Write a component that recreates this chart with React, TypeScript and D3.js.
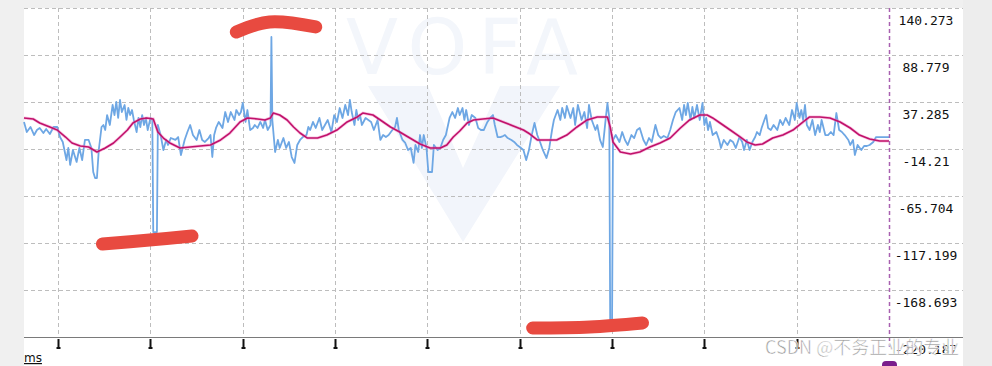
import React, { useEffect, useRef } from "react";
import * as d3 from "d3";

// right axis labels, top to bottom
const yTickLabels = ["140.273", "88.779", "37.285", "-14.21", "-65.704", "-117.199", "-168.693", "-220.187"];
// time axis (ms), labels are not legible in the capture
const xTickValues = [0, 100, 200, 300, 400, 500, 600, 700, 800];
const xDomain = [-37, 900];

// raw channel [ms, value]
const rawSignal: [number, number][] = [
  [-37, 15.4], [-34, 4.4], [-30, 9.9], [-26, 1.1], [-23, 6.6], [-20, 8.8], [-16, 3.3], [-13, 7.7], [-9, 2.2], [-5, 9.9],
  [-1, 9.9], [2, -1.1], [5, -6.5], [9, -26.3], [11, -13.1], [13, -31.7], [16, -15.3], [20, -28.4], [23, -13.1], [26, -26.3],
  [29, -4.3], [33, -4.3], [36, -13.1], [38, -39.4], [40, -46.0], [42, -46.0], [44, -15.3], [47, 9.9], [49, 12.1], [51, 6.6],
  [53, 23.0], [56, 12.1], [59, 34.0], [61, 23.0], [63, 37.3], [65, 19.8], [67, 39.5], [69, 26.3], [72, 34.0], [74, 17.6],
  [76, 30.7], [78, 23.0], [80, 28.5], [82, 17.6], [85, 4.4], [87, 19.8], [89, 9.9], [91, 23.0], [93, 12.1], [95, 19.8],
  [97, 6.6], [100, 19.8], [102, 17.6], [103, -105.2], [107, -105.2], [108, 12.1], [111, 1.1], [114, -15.3], [117, -4.3], [119, -9.8],
  [122, -2.2], [127, -4.3], [130, -1.1], [133, -20.8], [137, -4.3], [140, 4.4], [143, 12.1], [146, 1.1], [150, -4.3], [153, 6.6],
  [156, -4.3], [159, -6.5], [163, -2.2], [165, 1.1], [167, -23.0], [169, 1.1], [171, 8.8], [174, 15.4], [178, 8.8], [181, 26.3],
  [184, 15.4], [187, 26.3], [191, 17.6], [193, 28.5], [196, 23.0], [198, 26.3], [200, 36.2], [203, 15.4], [205, 28.5], [208, 6.6],
  [211, 8.8], [213, 12.1], [216, 8.8], [219, 15.4], [222, 8.8], [224, 17.6], [227, 6.6], [230, 12.1], [231, 108.5], [232, 17.6],
  [235, -17.5], [238, -4.3], [240, -13.1], [244, -2.2], [247, -13.1], [250, -6.5], [253, -23.0], [256, -29.5], [259, -9.8], [262, -4.3],
  [265, -1.1], [269, 1.1], [271, 9.9], [273, 6.6], [276, 15.4], [279, 8.8], [283, 19.8], [286, 6.6], [289, 12.1], [292, 17.6],
  [296, 4.4], [299, 23.0], [302, 15.4], [305, 30.7], [308, 19.8], [311, 34.0], [314, 23.0], [316, 39.5], [318, 26.3], [321, 12.1],
  [323, 28.5], [325, 17.6], [327, 23.0], [329, 12.1], [333, 19.8], [336, 17.6], [339, 15.4], [342, 6.6], [346, 17.6], [349, -4.3],
  [352, 1.1], [355, -1.1], [358, 1.1], [362, 6.6], [365, 9.9], [367, 19.8], [369, 6.6], [373, -4.3], [376, -7.6], [379, -15.3],
  [382, -13.1], [385, -29.5], [387, -9.8], [390, -17.5], [392, 1.1], [394, -13.1], [396, 1.1], [399, -13.1], [401, -39.4], [405, -39.4],
  [407, -9.8], [411, -15.3], [414, -13.1], [417, -4.3], [420, 1.1], [424, 19.8], [427, 26.3], [430, 19.8], [433, 30.7], [435, 23.0],
  [438, 30.7], [440, 17.6], [442, 28.5], [445, 12.1], [448, 23.0], [452, 19.8], [455, 8.8], [458, 6.6], [461, 6.6], [465, 15.4],
  [468, 19.8], [471, 23.0], [473, 12.1], [476, -1.1], [479, -1.1], [482, 0], [484, 1.1], [487, -2.2], [491, -4.3], [494, -6.5],
  [497, -9.8], [500, -12.0], [504, -15.3], [507, -26.3], [510, -15.3], [513, 1.1], [516, 14.3], [519, 1.1], [522, -6.5], [525, -15.3],
  [529, -24.1], [532, -13.1], [535, 6.6], [537, 17.6], [541, 28.5], [544, 17.6], [546, 30.7], [549, 19.8], [551, 32.9], [555, 19.8],
  [558, 30.7], [560, 12.1], [563, 34.0], [567, 17.6], [570, 26.3], [573, 8.8], [575, 34.0], [578, 17.6], [582, 6.6], [584, 12.1],
  [587, -4.3], [590, -12.0], [593, 17.6], [595, 36.2], [597, 19.8], [598, -207], [600, -207], [601, -4.3], [604, 1.1], [608, -6.5],
  [611, 4.4], [614, -4.3], [617, -9.8], [621, 1.1], [624, -2.2], [627, 6.6], [630, 8.8], [634, -4.3], [637, -9.8], [640, -2.2],
  [643, -6.5], [647, 12.1], [650, 1.1], [653, -2.2], [656, 0], [660, -2.2], [663, 6.6], [666, 17.6], [669, 26.3], [673, 30.7],
  [676, 17.6], [678, 34.0], [680, 23.0], [682, 36.2], [685, 17.6], [687, 31.8], [689, 19.8], [692, 34.0], [695, 17.6], [698, 36.2],
  [700, 12.1], [702, 19.8], [704, 6.6], [706, 15.4], [709, 1.1], [713, 4.4], [716, -4.3], [718, -13.1], [721, -4.3], [725, -9.8],
  [728, -4.3], [731, -6.5], [734, -13.1], [738, -1.1], [741, -6.5], [743, -15.3], [746, -4.3], [749, -15.3], [752, -6.5], [755, -1.1],
  [757, 4.4], [760, 1.1], [762, 8.8], [765, 17.6], [767, 23.0], [769, 8.8], [772, 6.6], [775, 12.1], [779, 6.6], [782, 17.6],
  [785, 12.1], [788, 19.8], [792, 12.1], [795, 28.5], [798, 17.6], [800, 36.2], [803, 19.8], [805, 28.5], [807, 17.6], [809, 34.0],
  [811, 12.1], [814, 6.6], [817, 17.6], [820, 1.1], [823, 12.1], [825, 4.4], [827, 17.6], [831, 1.1], [834, 1.1], [837, 4.4],
  [840, 1.1], [843, 25.2], [846, 6.6], [849, 4.4], [852, 1.1], [856, -4.3], [858, -9.8], [861, -4.3], [863, -20.8], [866, -9.8],
  [870, -15.3], [873, -10.9], [876, -10.9], [879, -9.8], [883, -6.5], [886, -1.1], [890, -1.1], [900, -1.1],
];

// filtered channel [ms, value]
const filteredSignal: [number, number][] = [
  [-37, 19.8], [-27, 18.7], [-20, 14.3], [-9, 9.9], [-1, 6.6], [8, -1.1], [15, -7.6], [24, -10.9], [33, -12.0], [42, -17.5],
  [51, -13.1], [60, -7.6], [67, -1.1], [75, 6.6], [81, 14.3], [89, 18.7], [96, 19.8], [103, 18.7], [108, 4.4], [114, -2.2],
  [121, -7.6], [132, -13.1], [143, -12.0], [154, -10.9], [165, -9.8], [176, -4.3], [186, 3.3], [197, 15.4], [205, 19.8], [216, 18.7],
  [224, 17.6], [230, 19.8], [233, 25.2], [240, 23.0], [248, 17.6], [255, 9.9], [262, 3.3], [270, -2.2], [281, -2.2], [291, 1.1],
  [302, 6.6], [313, 15.4], [324, 20.9], [330, 25.2], [341, 23.0], [349, 17.6], [360, 9.9], [370, 4.4], [381, -2.2], [392, -8.7],
  [403, -13.1], [414, -13.1], [421, -9.8], [428, -1.1], [435, 5.5], [443, 14.3], [450, 17.6], [460, 18.7], [471, 19.8], [482, 15.4],
  [493, 11.0], [504, 6.6], [511, 2.2], [519, -4.3], [530, -4.3], [540, -4.3], [551, 1.1], [562, 9.9], [573, 17.6], [584, 20.9],
  [595, 20.9], [598, 9.9], [601, -6.5], [609, -17.5], [620, -19.7], [630, -17.5], [641, -12.0], [652, -7.6], [663, -2.2], [674, 8.8],
  [684, 17.6], [695, 23.0], [703, 23.0], [709, 19.8], [717, 14.3], [728, 6.6], [739, -1.1], [746, -6.5], [755, -9.8], [763, -8.7],
  [774, -2.2], [785, 1.1], [796, 6.6], [807, 15.4], [814, 20.9], [825, 20.9], [836, 19.8], [847, 15.4], [858, 8.8], [868, 1.1],
  [879, -3.3], [890, -5.4], [900, -5.4],
];

// red hand-drawn marks over the spikes [ms, value]
const markTop: [number, number][] = [[193, 114], [229, 125], [279, 119.5]];
const markLeft: [number, number][] = [[48, -118.3], [99, -114], [145, -109.5]];
const markBottom: [number, number][] = [[514, -210.3], [576, -209.2], [633, -204.8]];

export default function App() {
  const ref = useRef<SVGSVGElement | null>(null);

  useEffect(() => {
    var width = 992;
    var height = 366;
    var left = 24;
    var right = 889;
    var top = 8;
    var bottom = 337;
    var gridEnd = 963;

    var svg = d3.select(ref.current);
    svg.selectAll("*").remove();

    var yValues = yTickLabels.map(Number);
    const x = d3.scaleLinear().domain(xDomain).range([left, right]);
    const y = d3
      .scaleLinear()
      .domain([d3.min(yValues) as number, d3.max(yValues) as number])
      .range([bottom, top]);

    svg.append("rect").attr("width", width).attr("height", height).attr("fill", "#fff");
    svg.append("rect").attr("width", left).attr("height", height).attr("fill", "#f0f0f0");
    svg.append("rect").attr("width", width).attr("height", top).attr("fill", "#f0f0f0");
    svg.append("rect").attr("x", gridEnd).attr("width", width - gridEnd).attr("height", height).attr("fill", "#ededed");

    // faint VOFA watermark
    svg
      .append("text")
      .attr("x", 462)
      .attr("y", 74)
      .attr("text-anchor", "middle")
      .attr("textLength", 232)
      .style("font-family", "DejaVu Sans")
      .style("font-size", "76px")
      .attr("fill", "#f3f6fb")
      .text("VOFA");
    svg
      .append("path")
      .attr("d", "M368,86 L428,86 L463,168 L500,86 L560,86 L463,242 Z")
      .attr("fill", "#f2f5fb");

    // grid
    svg
      .append("g")
      .selectAll("line")
      .data(yValues.slice(0, -1))
      .enter()
      .append("line")
      .attr("x1", left)
      .attr("x2", gridEnd)
      .attr("y1", (d) => Math.round(y(d)) + 0.5)
      .attr("y2", (d) => Math.round(y(d)) + 0.5)
      .attr("stroke", "#bdbdbd")
      .attr("stroke-dasharray", "4,3");

    svg
      .append("g")
      .selectAll("line")
      .data(xTickValues)
      .enter()
      .append("line")
      .attr("x1", (d) => Math.round(x(d)) + 0.5)
      .attr("x2", (d) => Math.round(x(d)) + 0.5)
      .attr("y1", top)
      .attr("y2", bottom)
      .attr("stroke", "#bdbdbd")
      .attr("stroke-dasharray", "4,3");

    // series
    const line = d3
      .line<[number, number]>()
      .x((d) => x(d[0]))
      .y((d) => y(d[1]));

    svg
      .append("path")
      .attr("d", line(rawSignal))
      .attr("fill", "none")
      .attr("stroke", "#6ea7e4")
      .attr("stroke-width", 1.8)
      .attr("stroke-linejoin", "round");

    svg
      .append("path")
      .attr("d", line(filteredSignal))
      .attr("fill", "none")
      .attr("stroke", "#f27ac0")
      .attr("stroke-opacity", 0.45)
      .attr("stroke-width", 3);
    svg
      .append("path")
      .attr("d", line(filteredSignal))
      .attr("fill", "none")
      .attr("stroke", "#c0126a")
      .attr("stroke-width", 1.6)
      .attr("stroke-linejoin", "round");

    // cursor line at the end of the data
    svg
      .append("line")
      .attr("x1", Math.round(x(xDomain[1])) + 0.5)
      .attr("x2", Math.round(x(xDomain[1])) + 0.5)
      .attr("y1", top)
      .attr("y2", bottom + 10)
      .attr("stroke", "#a860b0")
      .attr("stroke-width", 1.5)
      .attr("stroke-dasharray", "4,3");

    // red annotation strokes
    const mark = d3
      .line<[number, number]>()
      .x((d) => x(d[0]))
      .y((d) => y(d[1]))
      .curve(d3.curveCatmullRom);
    [markTop, markLeft, markBottom].forEach((m) => {
      svg
        .append("path")
        .attr("d", mark(m))
        .attr("fill", "none")
        .attr("stroke", "#e84a40")
        .attr("stroke-width", 13)
        .attr("stroke-linecap", "round");
    });

    // bottom axis
    svg
      .append("line")
      .attr("x1", left)
      .attr("x2", gridEnd)
      .attr("y1", bottom + 0.5)
      .attr("y2", bottom + 0.5)
      .attr("stroke", "#7a7a7a");

    var ticks = svg.append("g").selectAll("g").data(xTickValues).enter().append("g");
    ticks
      .append("rect")
      .attr("x", (d) => Math.round(x(d)) - 0.5)
      .attr("y", bottom + 2)
      .attr("width", 2)
      .attr("height", 10)
      .attr("fill", "#111");
    ticks
      .append("rect")
      .attr("x", (d) => Math.round(x(d)) - 1.5)
      .attr("y", bottom + 10)
      .attr("width", 4)
      .attr("height", 2)
      .attr("fill", "#111");

    // right axis labels
    svg
      .append("g")
      .selectAll("text")
      .data(yTickLabels)
      .enter()
      .append("text")
      .attr("x", 926)
      .attr("y", (d) => y(Number(d)) + 17)
      .attr("text-anchor", "middle")
      .style("font-family", "DejaVu Sans Mono")
      .style("font-size", "13px")
      .attr("fill", "#111")
      .text((d) => d);

    svg
      .append("text")
      .attr("x", left)
      .attr("y", 362)
      .style("font-family", "DejaVu Sans")
      .style("font-size", "12px")
      .style("text-decoration", "underline")
      .attr("fill", "#111")
      .text("ms");

    svg
      .append("rect")
      .attr("x", 882)
      .attr("y", 361)
      .attr("width", 15)
      .attr("height", 12)
      .attr("rx", 4)
      .attr("fill", "#7b1d8c");

    // CSDN watermark, it sits over the last axis label in the capture
    svg
      .append("text")
      .attr("x", 765)
      .attr("y", 354)
      .style("font-family", "Noto Sans CJK SC")
      .style("font-size", "18px")
      .attr("fill", "#8c8c8c")
      .attr("stroke", "#fff")
      .attr("stroke-width", 0.6)
      .attr("fill-opacity", 0.9)
      .text("CSDN @不务正业的专业");
  }, []);

  return (
    <svg
      ref={ref}
      width={992}
      height={366}
      style={{ position: "absolute", left: 0, top: 0, display: "block" }}
    />
  );
}
